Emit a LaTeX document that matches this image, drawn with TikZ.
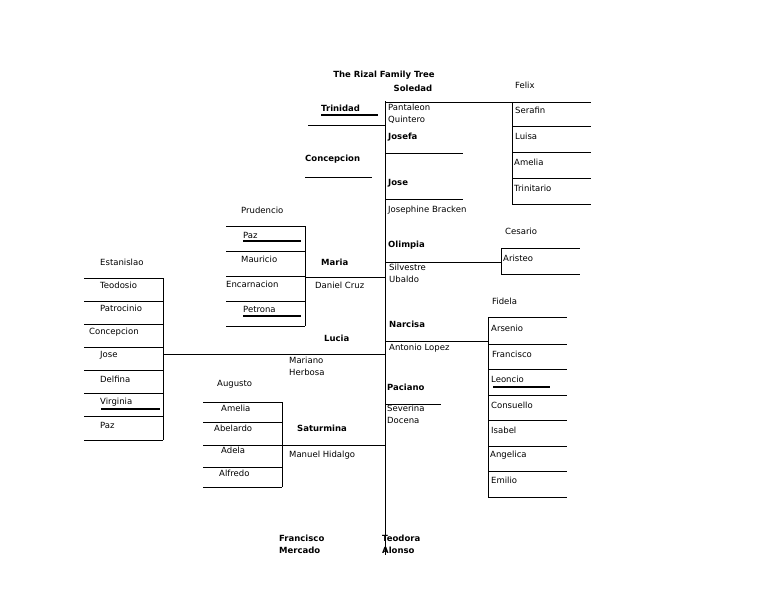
\documentclass[tikz,border=0pt]{standalone}
\usepackage{fontspec}
\setmainfont{DejaVu Sans}
\begin{document}
\begin{tikzpicture}[x=1pt,y=-1pt,
  nm/.style={font=\fontsize{8.5}{10}\selectfont,inner sep=0pt,anchor=west},
  bn/.style={nm,font=\fontsize{8.5}{10}\selectfont\bfseries},
  ln/.style={line width=0.6pt},
  ul/.style={line width=1.2pt}]
\useasboundingbox (0,0) rectangle (768,594);
\newcommand{\cutnm}[5]{\begin{scope}\clip (#1-2,#2-8) rectangle (#1+120,#2+12);
  \node[#5,anchor=north west,align=left,font=\fontsize{8.5}{12}\selectfont#3] at (#1,#2-6) {#4};\end{scope}}
% title
\node[bn,anchor=center] (title) at (384,75) {The Rizal Family Tree};
\node[bn,anchor=center] (soledad) at (413,88) {Soledad};
% main trunk
\coordinate (tt) at (385,101); \coordinate (tb) at (385,555);
\draw[ln] (tt) -- (tb);
% Trinidad
\node[bn] (trinidad) at (321,108) {Trinidad};
\draw[ul] (321,115) -- (378,115);
\draw[ln] (308,125) -- (385,125);
\draw[ln] (385,102) -- (512,102);
\cutnm{388}{110}{}{Pantaleon\\Quintero}{inner sep=0pt}
\node[bn] (josefa) at (388,137) {Josefa};
\draw[ln] (385,153) -- (463,153);
\node[bn] (concepcion) at (305,159) {Concepcion};
\draw[ln] (305,177) -- (372,177);
\node[bn] (jose) at (388,183) {Jose};
\draw[ln] (385,199) -- (463,199);
\node[nm] (bracken) at (388,210) {Josephine Bracken};
% Felix box
\node[nm] (felix) at (515,85) {Felix};
\draw[ln] (512,102) -- (512,204);
\foreach \y in {102,126,152,178,204} \draw[ln] (512,\y) -- (591,\y);
\node[nm] at (515,110) {Serafin};
\node[nm] at (515,136) {Luisa};
\node[nm] at (514,162) {Amelia};
\node[nm] at (514,188) {Trinitario};
% Olimpia
\node[bn] (olimpia) at (388,245) {Olimpia};
\draw[ln] (385,262) -- (501,262);
\cutnm{389}{270}{}{Silvestre\\Ubaldo}{inner sep=0pt}
\node[nm] (cesario) at (505,231) {Cesario};
\draw[ln] (501,248) -- (501,275);
\draw[ln] (501,248) -- (580,248); \draw[ln] (501,274) -- (580,274);
\node[nm] at (503,258) {Aristeo};
% Prudencio box
\node[nm] (prudencio) at (241,210) {Prudencio};
\foreach \y in {226,251,276,301,326} \draw[ln] (226,\y) -- (305,\y);
\draw[ln] (305,226) -- (305,326);
\node[nm] at (243,235) {Paz}; \draw[ul] (243,241) -- (301,241);
\node[nm] at (241,259) {Mauricio};
\node[nm] at (226,284) {Encarnacion};
\node[nm] at (243,309) {Petrona}; \draw[ul] (243,316) -- (301,316);
\node[bn] (maria) at (321,262) {Maria};
\draw[ln] (305,277) -- (385,277);
\node[nm] (cruz) at (315,285) {Daniel Cruz};
% Narcisa
\node[bn] (narcisa) at (389,324) {Narcisa};
\draw[ln] (385,341) -- (488,341);
\node[nm] (lopez) at (389,348) {Antonio Lopez};
\node[nm] (fidela) at (492,301) {Fidela};
\draw[ln] (488,317) -- (488,497);
\foreach \y in {317,344,369,395,420,446,471,497} \draw[ln] (488,\y) -- (567,\y);
\node[nm] at (491,328) {Arsenio};
\node[nm] at (492,354) {Francisco};
\node[nm] at (491,379) {Leoncio}; \draw[ul] (493,387) -- (550,387);
\node[nm] at (491,405) {Consuello};
\node[nm] at (491,430) {Isabel};
\node[nm] at (490,455) {Angelica};
\node[nm] at (491,480) {Emilio};
% Lucia
\node[bn] (lucia) at (324,338) {Lucia};
\draw[ln] (163,354) -- (385,354);
\cutnm{289}{363}{}{Mariano\\Herbosa}{inner sep=0pt}
% Estanislao box
\node[nm] (estanislao) at (100,262) {Estanislao};
\foreach \y in {278,301,324,347,370,393,416,440} \draw[ln] (84,\y) -- (163,\y);
\draw[ln] (163,278) -- (163,440);
\node[nm] at (100,285) {Teodosio};
\node[nm] at (100,308) {Patrocinio};
\node[nm] at (89,332) {Concepcion};
\node[nm] at (100,355) {Jose};
\node[nm] at (100,379) {Delfina};
\node[nm] at (100,402) {Virginia}; \draw[ul] (101,409) -- (160,409);
\node[nm] at (100,425) {Paz};
% Paciano
\node[bn] (paciano) at (387,387) {Paciano};
\draw[ln] (385,404) -- (441,404);
\cutnm{387}{411}{}{Severina\\Docena}{inner sep=0pt}
% Augusto box
\node[nm] (augusto) at (217,384) {Augusto};
\foreach \y in {402,422,445,467,487} \draw[ln] (203,\y) -- (282,\y);
\draw[ln] (282,402) -- (282,487);
\node[nm] at (221,408) {Amelia};
\node[nm] at (214,428) {Abelardo};
\node[nm] at (221,450) {Adela};
\node[nm] at (219,473) {Alfredo};
\node[bn] (saturmina) at (297,428) {Saturmina};
\draw[ln] (282,445) -- (385,445);
\node[nm] (hidalgo) at (289,455) {Manuel Hidalgo};
% bottom
\cutnm{279}{541}{\bfseries}{Francisco\\Mercado}{inner sep=0pt}
\cutnm{382}{541}{\bfseries}{Teodora\\Alonso}{inner sep=0pt}
\end{tikzpicture}
\end{document}
